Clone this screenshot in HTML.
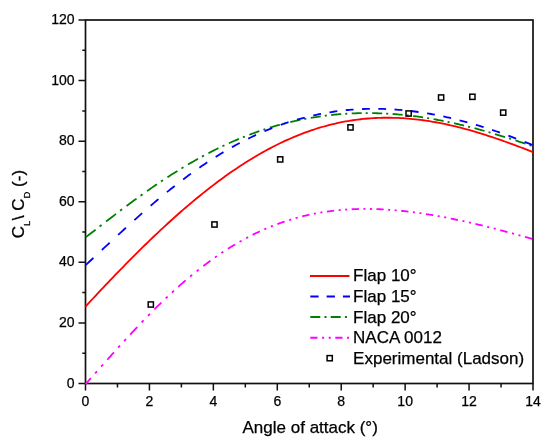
<!DOCTYPE html>
<html><head><meta charset="utf-8"><style>
html,body{margin:0;padding:0;background:#fff;width:550px;height:446px;overflow:hidden}
svg{display:block}
text{font-family:"Liberation Sans",Arial,sans-serif;fill:#000;stroke:#000;stroke-width:0.25px}
.t{font-size:14px}
.a{font-size:17px}
.l{font-size:17px}
.s{font-size:9.5px}
</style></head><body>
<svg width="550" height="446" viewBox="0 0 550 446">
<rect x="85.5" y="20.0" width="447.5" height="363.5" fill="none" stroke="#111" stroke-width="1.7"/>
<path d="M78.5,383.50H85.5M82.3,353.21H85.5M78.5,322.92H85.5M82.3,292.62H85.5M78.5,262.33H85.5M82.3,232.04H85.5M78.5,201.75H85.5M82.3,171.46H85.5M78.5,141.17H85.5M82.3,110.88H85.5M78.5,80.58H85.5M82.3,50.29H85.5M78.5,20.00H85.5M85.50,383.5V390.5M117.46,383.5V387.5M149.43,383.5V390.5M181.39,383.5V387.5M213.36,383.5V390.5M245.32,383.5V387.5M277.29,383.5V390.5M309.25,383.5V387.5M341.21,383.5V390.5M373.18,383.5V387.5M405.14,383.5V390.5M437.11,383.5V387.5M469.07,383.5V390.5M501.04,383.5V387.5M533.00,383.5V390.5" stroke="#111" stroke-width="1.5" fill="none"/>
<g fill="none" stroke-width="1.8">
<path d="M85.50,384.13 L87.31,382.12 L89.11,380.11 L90.92,378.09M95.12,373.39 L96.98,371.30M101.18,366.60 L103.05,364.51M107.30,359.75 L108.96,357.89 L110.63,356.04 L112.29,354.19 L113.96,352.34M118.12,347.73 L119.97,345.70M124.13,341.14 L125.98,339.12M130.20,334.56 L131.96,332.67 L133.72,330.79 L135.48,328.92 L137.24,327.05M141.64,322.44 L143.59,320.40M147.99,315.88 L149.94,313.89M154.40,309.41 L156.14,307.68 L157.87,305.97 L159.61,304.27 L161.35,302.58M165.69,298.41 L167.62,296.59M171.97,292.54 L173.90,290.77M178.30,286.80 L180.12,285.19 L181.93,283.59 L183.75,282.01 L185.57,280.44M190.11,276.60 L191.12,275.76 L192.13,274.93M196.68,271.24 L197.69,270.44 L198.70,269.64M203.30,266.06 L205.09,264.70 L206.88,263.35 L208.67,262.03 L210.45,260.72M214.92,257.52 L216.91,256.13M221.38,253.09 L223.37,251.77M227.90,248.84 L229.70,247.71 L231.50,246.60 L233.30,245.50 L235.10,244.42M239.60,241.81 L240.60,241.24 L241.60,240.68M246.10,238.22 L247.10,237.68 L248.10,237.16M252.66,234.82 L254.46,233.93 L256.26,233.06 L258.06,232.21 L259.86,231.37M264.36,229.34 L265.36,228.91 L266.36,228.48M270.86,226.61 L271.86,226.21 L272.86,225.81M277.42,224.07 L279.22,223.41 L281.02,222.77 L282.82,222.14 L284.62,221.53M289.12,220.08 L290.12,219.77 L291.12,219.46M295.62,218.15 L296.62,217.87 L297.62,217.59M302.18,216.40 L303.98,215.96 L305.78,215.53 L307.58,215.12 L309.38,214.72M313.88,213.78 L314.88,213.59 L315.88,213.40M320.38,212.59 L321.38,212.42 L322.38,212.26M326.94,211.57 L328.74,211.32 L330.54,211.08 L332.34,210.86 L334.14,210.65M338.64,210.18 L339.64,210.09 L340.64,210.00M345.14,209.64 L346.14,209.57 L347.14,209.51M351.70,209.25 L353.50,209.17 L355.30,209.11 L357.10,209.05 L358.90,209.01M363.40,208.94 L364.40,208.94 L365.40,208.93M369.90,208.96 L370.90,208.98 L371.90,209.00M376.46,209.12 L378.26,209.19 L380.06,209.27 L381.86,209.35 L383.66,209.45M388.16,209.72 L389.16,209.79 L390.16,209.86M394.66,210.22 L395.66,210.31 L396.66,210.40M401.22,210.84 L403.02,211.02 L404.82,211.22 L406.62,211.42 L408.42,211.63M412.92,212.19 L413.92,212.32 L414.92,212.46M419.42,213.08 L420.42,213.22 L421.42,213.37M425.98,214.07 L427.78,214.35 L429.58,214.64 L431.38,214.94 L433.18,215.25M437.68,216.03 L438.68,216.21 L439.68,216.40M444.18,217.23 L445.18,217.43 L446.18,217.62M450.74,218.52 L452.54,218.88 L454.34,219.25 L456.14,219.63 L457.94,220.00M462.44,220.97 L463.44,221.19 L464.44,221.41M468.94,222.42 L469.94,222.65 L470.94,222.88M475.50,223.94 L477.30,224.36 L479.10,224.79 L480.90,225.22 L482.70,225.66M487.20,226.77 L488.20,227.02 L489.20,227.27M493.70,228.41 L494.70,228.66 L495.70,228.92M500.26,230.11 L502.06,230.58 L503.86,231.06 L505.66,231.54 L507.46,232.02M511.96,233.24 L512.96,233.51 L513.96,233.79M518.46,235.03 L519.46,235.31 L520.46,235.59M525.02,236.87 L526.82,237.38 L528.62,237.90 L530.42,238.42 L532.22,238.93" stroke="#ff00ff"/>
<path d="M85.60,237.41 L87.27,236.12 L88.93,234.82 L90.60,233.53 L92.27,232.24 L93.93,230.94 L95.60,229.65M99.60,226.55 L100.60,225.77 L101.60,225.00M106.07,221.54 L107.74,220.26 L109.40,218.98 L111.07,217.70 L112.74,216.42 L114.40,215.15 L116.07,213.87M120.07,210.84 L121.07,210.09 L122.07,209.33M126.54,205.98 L128.21,204.74 L129.87,203.50 L131.54,202.27 L133.21,201.05 L134.87,199.83 L136.54,198.61M140.54,195.72 L141.54,195.00 L142.54,194.29M147.01,191.12 L148.68,189.95 L150.34,188.79 L152.01,187.63 L153.68,186.48 L155.34,185.34 L157.01,184.20M161.01,181.51 L162.01,180.84 L163.01,180.18M167.48,177.24 L169.15,176.16 L170.81,175.09 L172.48,174.03 L174.15,172.97 L175.81,171.93 L177.48,170.89M181.48,168.43 L182.48,167.82 L183.48,167.22M187.95,164.56 L189.62,163.58 L191.28,162.62 L192.95,161.66 L194.62,160.71 L196.28,159.77 L197.95,158.84M201.95,156.64 L202.95,156.10 L203.95,155.57M208.42,153.20 L210.09,152.34 L211.75,151.49 L213.42,150.64 L215.09,149.81 L216.75,148.98 L218.42,148.16M222.42,146.24 L223.42,145.77 L224.42,145.31M228.89,143.26 L230.56,142.51 L232.22,141.77 L233.89,141.04 L235.56,140.33 L237.22,139.62 L238.89,138.92M242.89,137.28 L243.89,136.88 L244.89,136.48M249.36,134.75 L251.03,134.12 L252.69,133.50 L254.36,132.90 L256.03,132.30 L257.69,131.71 L259.36,131.13M263.36,129.77 L264.36,129.44 L265.36,129.12M269.83,127.70 L271.50,127.19 L273.16,126.69 L274.83,126.19 L276.50,125.71 L278.16,125.24 L279.83,124.78M283.83,123.70 L284.83,123.44 L285.83,123.19M290.30,122.08 L291.97,121.68 L293.63,121.30 L295.30,120.92 L296.97,120.55 L298.63,120.19 L300.30,119.84M304.30,119.04 L305.30,118.85 L306.30,118.66M310.77,117.86 L312.44,117.57 L314.10,117.30 L315.77,117.04 L317.44,116.78 L319.10,116.53 L320.77,116.29M324.77,115.76 L325.77,115.63 L326.77,115.51M331.24,114.99 L332.91,114.82 L334.57,114.65 L336.24,114.49 L337.91,114.34 L339.57,114.20 L341.24,114.07M345.24,113.79 L346.24,113.73 L347.24,113.67M351.71,113.43 L353.38,113.36 L355.04,113.30 L356.71,113.25 L358.38,113.20 L360.04,113.16 L361.71,113.13M365.71,113.09 L366.71,113.09 L367.71,113.09M372.18,113.13 L373.85,113.16 L375.51,113.19 L377.18,113.24 L378.85,113.29 L380.51,113.35 L382.18,113.42M386.18,113.61 L387.18,113.67 L388.18,113.73M392.65,114.02 L394.32,114.14 L395.98,114.27 L397.65,114.41 L399.32,114.56 L400.98,114.71 L402.65,114.87M406.65,115.29 L407.65,115.40 L408.65,115.51M413.12,116.05 L414.79,116.26 L416.45,116.48 L418.12,116.71 L419.79,116.94 L421.45,117.18 L423.12,117.43M427.12,118.06 L428.12,118.22 L429.12,118.38M433.59,119.15 L435.26,119.44 L436.92,119.75 L438.59,120.06 L440.26,120.37 L441.92,120.70 L443.59,121.03M447.59,121.84 L448.59,122.05 L449.59,122.27M454.06,123.24 L455.73,123.62 L457.39,124.00 L459.06,124.38 L460.73,124.77 L462.39,125.17 L464.06,125.58M468.06,126.57 L469.06,126.82 L470.06,127.07M474.53,128.24 L476.20,128.68 L477.86,129.13 L479.53,129.58 L481.20,130.04 L482.86,130.50 L484.53,130.97M488.53,132.11 L489.53,132.40 L490.53,132.70M495.00,134.02 L496.67,134.52 L498.33,135.02 L500.00,135.53 L501.67,136.05 L503.33,136.56 L505.00,137.09M509.00,138.35 L510.00,138.67 L511.00,138.99M515.47,140.44 L517.14,140.98 L518.80,141.53 L520.47,142.08 L522.14,142.64 L523.80,143.19 L525.47,143.75M529.47,145.10 L530.47,145.44 L531.47,145.78" stroke="#008000"/>
<path d="M85.60,265.13 L87.55,263.33 L89.50,261.53 L91.45,259.72 L93.40,257.90M101.86,250.02 L103.81,248.20 L105.76,246.38 L107.71,244.56 L109.66,242.75M118.12,234.90 L120.07,233.10 L122.02,231.31 L123.97,229.52 L125.92,227.74M134.38,220.07 L136.33,218.32 L138.28,216.59 L140.23,214.85 L142.18,213.13M150.64,205.77 L152.59,204.09 L154.54,202.43 L156.49,200.78 L158.44,199.14M166.90,192.17 L168.85,190.59 L170.80,189.03 L172.75,187.48 L174.70,185.94M183.16,179.42 L185.11,177.96 L187.06,176.50 L189.01,175.07 L190.96,173.64M199.42,167.64 L201.37,166.29 L203.32,164.96 L205.27,163.64 L207.22,162.34M215.68,156.88 L217.63,155.67 L219.58,154.46 L221.53,153.28 L223.48,152.11M231.94,147.21 L233.89,146.13 L235.84,145.06 L237.79,144.00 L239.74,142.97M248.20,138.65 L250.15,137.70 L252.10,136.76 L254.05,135.85 L256.00,134.94M264.46,131.21 L266.41,130.39 L268.36,129.59 L270.31,128.80 L272.26,128.03M280.72,124.87 L282.67,124.19 L284.62,123.52 L286.57,122.87 L288.52,122.23M296.98,119.64 L298.93,119.08 L300.88,118.54 L302.83,118.01 L304.78,117.51M313.24,115.47 L315.19,115.04 L317.14,114.62 L319.09,114.22 L321.04,113.84M329.50,112.34 L331.45,112.03 L333.40,111.74 L335.35,111.46 L337.30,111.20M345.76,110.21 L347.71,110.02 L349.66,109.85 L351.61,109.69 L353.56,109.54M362.02,109.05 L363.97,108.98 L365.92,108.92 L367.87,108.87 L369.82,108.83M378.28,108.83 L380.23,108.86 L382.18,108.91 L384.13,108.97 L386.08,109.04M394.54,109.49 L396.49,109.63 L398.44,109.78 L400.39,109.94 L402.34,110.11M410.80,111.01 L412.75,111.24 L414.70,111.49 L416.65,111.75 L418.60,112.03M427.06,113.34 L429.01,113.67 L430.96,114.01 L432.91,114.37 L434.86,114.73M443.32,116.44 L445.27,116.86 L447.22,117.29 L449.17,117.74 L451.12,118.19M459.58,120.27 L461.53,120.78 L463.48,121.29 L465.43,121.82 L467.38,122.35M475.84,124.78 L477.79,125.37 L479.74,125.96 L481.69,126.56 L483.64,127.17M492.10,129.92 L494.05,130.58 L496.00,131.25 L497.95,131.92 L499.90,132.60M508.36,135.64 L510.31,136.35 L512.26,137.08 L514.21,137.82 L516.16,138.56M524.62,141.84 L526.57,142.62 L528.52,143.39 L530.47,144.18 L532.42,144.97" stroke="#0000ff"/>
<path d="M85.50,306.58 L88.00,303.88 L90.50,301.19 L93.00,298.50 L95.50,295.82 L98.00,293.15 L100.50,290.49 L103.00,287.84 L105.50,285.20 L108.00,282.57 L110.50,279.95 L113.00,277.34 L115.50,274.74 L118.00,272.15 L120.50,269.57 L123.00,267.01 L125.50,264.45 L128.00,261.91 L130.50,259.38 L133.00,256.87 L135.50,254.37 L138.00,251.88 L140.50,249.41 L143.00,246.95 L145.50,244.51 L148.00,242.08 L150.50,239.67 L153.00,237.27 L155.50,234.89 L158.00,232.53 L160.50,230.18 L163.00,227.85 L165.50,225.54 L168.00,223.24 L170.50,220.97 L173.00,218.71 L175.50,216.47 L178.00,214.25 L180.50,212.05 L183.00,209.87 L185.50,207.71 L188.00,205.57 L190.50,203.45 L193.00,201.35 L195.50,199.27 L198.00,197.22 L200.50,195.18 L203.00,193.17 L205.50,191.18 L208.00,189.21 L210.50,187.27 L213.00,185.35 L215.50,183.45 L218.00,181.57 L220.50,179.72 L223.00,177.90 L225.50,176.10 L228.00,174.32 L230.50,172.57 L233.00,170.84 L235.50,169.14 L238.00,167.46 L240.50,165.81 L243.00,164.19 L245.50,162.59 L248.00,161.02 L250.50,159.47 L253.00,157.95 L255.50,156.46 L258.00,154.99 L260.50,153.55 L263.00,152.14 L265.50,150.76 L268.00,149.40 L270.50,148.08 L273.00,146.78 L275.50,145.50 L278.00,144.26 L280.50,143.04 L283.00,141.85 L285.50,140.69 L288.00,139.56 L290.50,138.46 L293.00,137.39 L295.50,136.34 L298.00,135.32 L300.50,134.34 L303.00,133.38 L305.50,132.45 L308.00,131.54 L310.50,130.67 L313.00,129.83 L315.50,129.01 L318.00,128.23 L320.50,127.47 L323.00,126.74 L325.50,126.04 L328.00,125.37 L330.50,124.73 L333.00,124.12 L335.50,123.53 L338.00,122.98 L340.50,122.45 L343.00,121.95 L345.50,121.48 L348.00,121.04 L350.50,120.63 L353.00,120.24 L355.50,119.88 L358.00,119.55 L360.50,119.25 L363.00,118.98 L365.50,118.73 L368.00,118.51 L370.50,118.32 L373.00,118.16 L375.50,118.02 L378.00,117.91 L380.50,117.82 L383.00,117.76 L385.50,117.73 L388.00,117.73 L390.50,117.75 L393.00,117.79 L395.50,117.86 L398.00,117.96 L400.50,118.08 L403.00,118.22 L405.50,118.39 L408.00,118.59 L410.50,118.81 L413.00,119.05 L415.50,119.31 L418.00,119.60 L420.50,119.91 L423.00,120.24 L425.50,120.60 L428.00,120.98 L430.50,121.38 L433.00,121.80 L435.50,122.24 L438.00,122.70 L440.50,123.18 L443.00,123.68 L445.50,124.21 L448.00,124.75 L450.50,125.31 L453.00,125.89 L455.50,126.49 L458.00,127.10 L460.50,127.74 L463.00,128.39 L465.50,129.06 L468.00,129.74 L470.50,130.44 L473.00,131.16 L475.50,131.89 L478.00,132.64 L480.50,133.40 L483.00,134.17 L485.50,134.96 L488.00,135.77 L490.50,136.58 L493.00,137.41 L495.50,138.25 L498.00,139.11 L500.50,139.97 L503.00,140.85 L505.50,141.74 L508.00,142.63 L510.50,143.54 L513.00,144.46 L515.50,145.38 L518.00,146.32 L520.50,147.26 L523.00,148.21 L525.50,149.17 L528.00,150.13 L530.50,151.10 L533.00,152.08" stroke="#ff0000"/>
</g>
<rect x="148.20" y="301.90" width="5.2" height="5.2" fill="none" stroke="#000" stroke-width="1.5"/>
<rect x="211.90" y="221.90" width="5.2" height="5.2" fill="none" stroke="#000" stroke-width="1.5"/>
<rect x="277.60" y="156.80" width="5.2" height="5.2" fill="none" stroke="#000" stroke-width="1.5"/>
<rect x="347.90" y="124.80" width="5.2" height="5.2" fill="none" stroke="#000" stroke-width="1.5"/>
<rect x="406.00" y="110.90" width="5.2" height="5.2" fill="none" stroke="#000" stroke-width="1.5"/>
<rect x="438.50" y="94.90" width="5.2" height="5.2" fill="none" stroke="#000" stroke-width="1.5"/>
<rect x="469.80" y="94.20" width="5.2" height="5.2" fill="none" stroke="#000" stroke-width="1.5"/>
<rect x="500.60" y="110.00" width="5.2" height="5.2" fill="none" stroke="#000" stroke-width="1.5"/>
<text x="74.5" y="387.5" text-anchor="end" class="t">0</text>
<text x="74.5" y="326.9" text-anchor="end" class="t">20</text>
<text x="74.5" y="266.3" text-anchor="end" class="t">40</text>
<text x="74.5" y="205.8" text-anchor="end" class="t">60</text>
<text x="74.5" y="145.2" text-anchor="end" class="t">80</text>
<text x="74.5" y="84.6" text-anchor="end" class="t">100</text>
<text x="74.5" y="24.0" text-anchor="end" class="t">120</text>
<text x="85.50" y="406" text-anchor="middle" class="t">0</text>
<text x="149.43" y="406" text-anchor="middle" class="t">2</text>
<text x="213.36" y="406" text-anchor="middle" class="t">4</text>
<text x="277.29" y="406" text-anchor="middle" class="t">6</text>
<text x="341.21" y="406" text-anchor="middle" class="t">8</text>
<text x="405.14" y="406" text-anchor="middle" class="t">10</text>
<text x="469.07" y="406" text-anchor="middle" class="t">12</text>
<text x="533.00" y="406" text-anchor="middle" class="t">14</text>
<text x="310.2" y="432.7" text-anchor="middle" class="a">Angle of attack (°)</text>
<g transform="translate(24,238.3) rotate(-90)"><text x="0" y="0" class="a">C<tspan class="s" dy="5.5">L</tspan><tspan dy="-5.5" dx="0.5">\ C</tspan><tspan class="s" dy="5.5">D</tspan><tspan dy="-5.5"> (-)</tspan></text></g>
<path d="M310,275.9H349.5" stroke="#ff0000" stroke-width="2"/>
<path d="M310.3,296.5H350" stroke="#0000ff" stroke-width="2" stroke-dasharray="8.3 8"/>
<path d="M310.3,317.1H348" stroke="#008000" stroke-width="2" stroke-dasharray="10 4.2 2 4.2"/>
<path d="M310.3,337.8H350" stroke="#ff00ff" stroke-width="2" stroke-dasharray="7.2 4.6 2 4.6 2 4.6"/>
<rect x="327.1" y="355.6" width="5.2" height="5.2" fill="none" stroke="#000" stroke-width="1.5"/>
<text x="353.1" y="281.3" class="l">Flap 10°</text>
<text x="353.1" y="302.0" class="l">Flap 15°</text>
<text x="353.1" y="322.7" class="l">Flap 20°</text>
<text x="353.1" y="343.4" class="l">NACA 0012</text>
<text x="353.1" y="364.1" class="l">Experimental (Ladson)</text>
</svg>
</body></html>
